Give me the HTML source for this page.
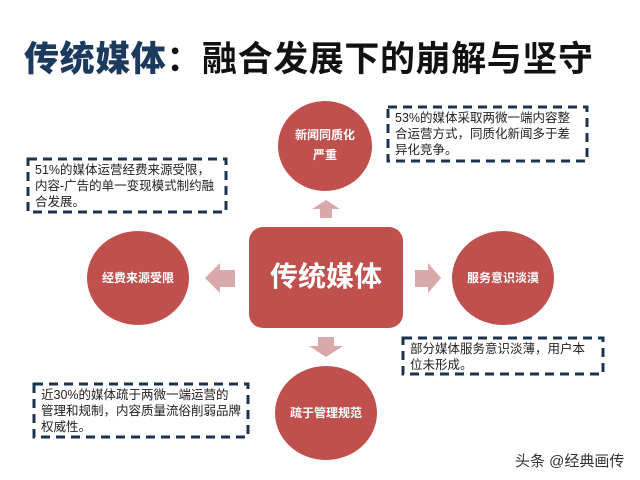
<!DOCTYPE html>
<html><head><meta charset="utf-8"><style>
body{margin:0;width:640px;height:480px;background:#fff;overflow:hidden;font-family:"Liberation Sans","Noto Sans CJK SC",sans-serif;position:relative}
.t{position:absolute;left:24px;top:31px;font-size:35px;letter-spacing:0.6px;font-weight:bold;white-space:nowrap;color:#111}
.t b{color:#1c3a5e}
.box{position:absolute;font-size:12.5px;line-height:16px;color:#222;padding:2px 7px;box-sizing:border-box;white-space:nowrap}
.lbl{position:absolute;color:#fff;font-weight:bold;text-align:center;font-size:12px;line-height:20px}
</style></head><body>
<div class="t"><b>传统媒体</b>：融合发展下的崩解与坚守</div>
<svg width="640" height="480" style="position:absolute;left:0;top:0">
<g fill="#c0504d">
<ellipse cx="325" cy="146" rx="47" ry="45"/>
<ellipse cx="138" cy="278" rx="51" ry="47"/>
<ellipse cx="503" cy="278" rx="51" ry="47"/>
<ellipse cx="326" cy="413" rx="51" ry="47"/>
<rect x="249" y="227" width="154" height="101" rx="14"/>
</g>
<g fill="#d9a9aa">
<polygon points="320,218 332,218 332,209 340,209 326,200 312,209 320,209"/>
<polygon points="235,270 235,287 220,287 220,293 205,278 220,263 220,270"/>
<polygon points="415,270 415,287 428,287 428,293 441,278 428,263 428,270"/>
<polygon points="318,337 334,337 334,346 343,346 326,357 309,346 318,346"/>
</g>
<g fill="none" stroke="#1c3350" stroke-width="3" stroke-dasharray="9,6">
<rect x="28" y="159" width="198" height="53"/>
<rect x="388" y="107" width="199" height="54"/>
<rect x="403" y="338" width="200" height="36"/>
<rect x="34" y="384" width="214" height="53"/>
</g>
</svg>
<div class="lbl" style="left:278px;top:125px;width:94px">新闻同质化<br>严重</div>
<div class="lbl" style="left:87px;top:268px;width:102px">经费来源受限</div>
<div class="lbl" style="left:452px;top:268px;width:102px">服务意识淡漠</div>
<div class="lbl" style="left:275px;top:403px;width:102px">疏于管理规范</div>
<div class="lbl" style="left:249px;top:258px;width:154px;font-size:28px;line-height:38px">传统媒体</div>
<div class="box" style="left:28px;top:160px">51%的媒体运营经费来源受限，<br>内容-广告的单一变现模式制约融<br>合发展。</div>
<div class="box" style="left:388px;top:108px">53%的媒体采取两微一端内容整<br>合运营方式，同质化新闻多于差<br>异化竞争。</div>
<div class="box" style="left:403px;top:339px">部分媒体服务意识淡薄，用户本<br>位未形成。</div>
<div class="box" style="left:34px;top:385px">近30%的媒体疏于两微一端运营的<br>管理和规制，内容质量流俗削弱品牌<br>权威性。</div>
<div style="position:absolute;left:515px;top:450px;font-size:15px;color:#333">头条 @经典画传</div>
</body></html>
